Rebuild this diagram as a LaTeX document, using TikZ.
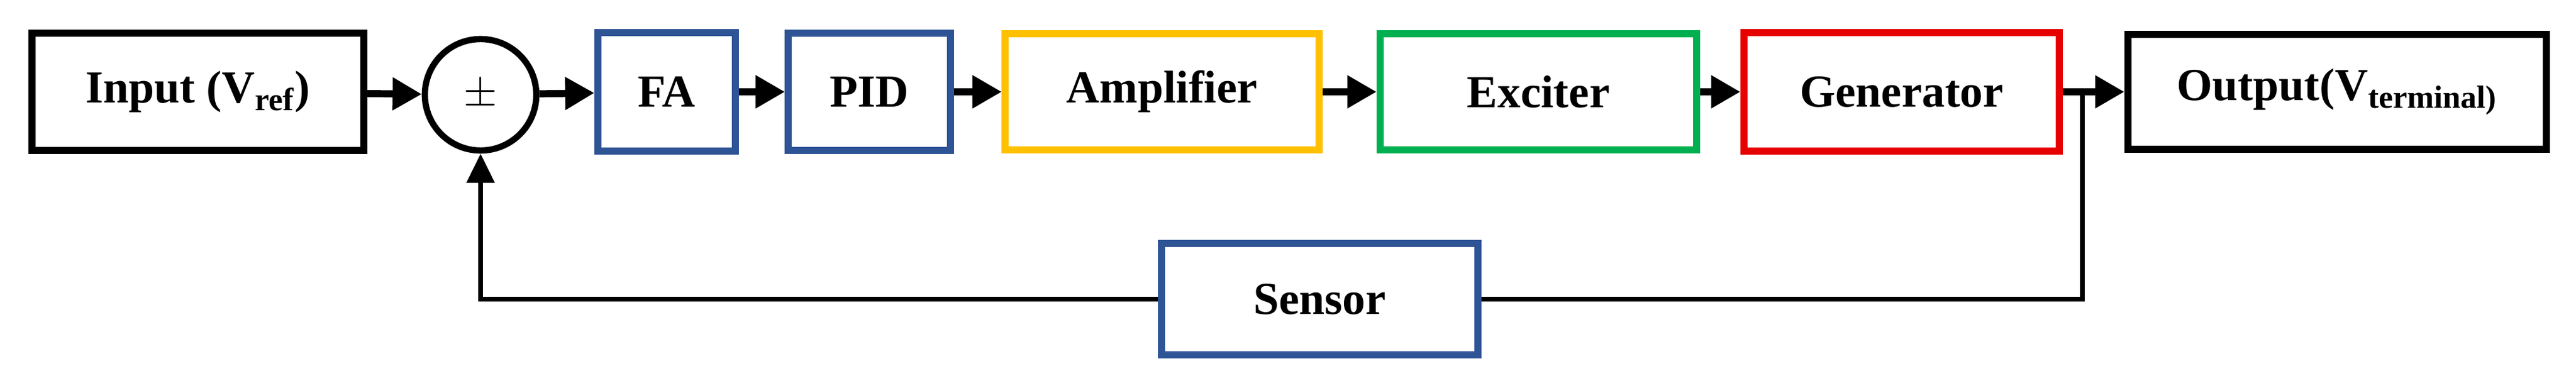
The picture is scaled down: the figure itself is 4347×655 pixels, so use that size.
\documentclass[tikz,border=0pt]{standalone}
\usepackage{fontspec}
\setmainfont{Liberation Serif}
\usetikzlibrary{arrows.meta}
\definecolor{bblue}{RGB}{47,84,150}
\definecolor{byellow}{RGB}{255,192,0}
\definecolor{bgreen}{RGB}{0,176,80}
\definecolor{bred}{RGB}{230,0,0}
\begin{document}
\begin{tikzpicture}[x=0.01cm,y=-0.01cm,
  blk/.style={draw,line width=3.4pt,fill=white,inner sep=0pt,font=\fontsize{22}{26}\selectfont\bfseries},
  arr/.style={line width=3.4pt,-{Triangle[length=14pt,width=15pt]}},
  fb/.style={line width=2.4pt}]
\useasboundingbox (0,0) rectangle (4347,655);
\node[blk,minimum width=5.59cm,minimum height=1.97cm] (in) at (334,155) {Input (V\textsubscript{ref})};
\node[blk,circle,minimum size=1.88cm,line width=3pt] (sum) at (811,160) {$\pm$};
\node[blk,draw=bblue,minimum width=2.32cm,minimum height=2.0cm] (fa) at (1125,155) {FA};
\node[blk,draw=bblue,minimum width=2.73cm,minimum height=1.97cm] (pid) at (1467,155) {PID};
\node[blk,draw=byellow,minimum width=5.29cm,minimum height=1.95cm] (amp) at (1961,155) {Amplifier};
\node[blk,draw=bgreen,minimum width=5.34cm,minimum height=1.95cm] (exc) at (2596,155) {Exciter};
\node[blk,draw=bred,minimum width=5.32cm,minimum height=2.0cm] (gen) at (3209,155) {Generator};
\node[blk,minimum width=7.06cm,minimum height=1.94cm] (out) at (3944,155) {Output(V\textsubscript{terminal)}};
\node[blk,draw=bblue,minimum width=5.34cm,minimum height=1.87cm] (sen) at (2227,505) {Sensor};
\coordinate (tap) at (3514,155);
\draw[arr] (in) -- (sum);
\draw[arr] (sum) -- (fa);
\draw[arr] (fa) -- (pid);
\draw[arr] (pid) -- (amp);
\draw[arr] (amp) -- (exc);
\draw[arr] (exc) -- (gen);
\draw[arr] (gen) -- (out);
\draw[fb] (sen.east) -| (tap);
\draw[fb,-{Triangle[length=14pt,width=13pt]}] (sen.west) -| (sum.south);
\end{tikzpicture}
\end{document}
